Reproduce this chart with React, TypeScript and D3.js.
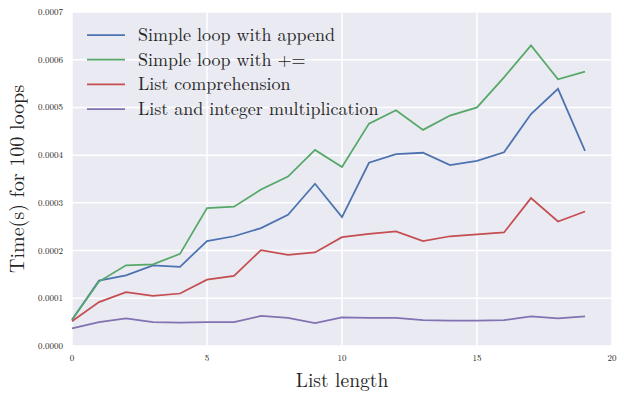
import React from 'react';
import * as d3 from 'd3';

const width = 624;
const height = 398;
const margin = { top: 12, right: 12, bottom: 52, left: 72 };

const xs = d3.range(0, 20);
const seriesNames = [
  'Simple loop with append',
  'Simple loop with +=',
  'List comprehension',
  'List and integer multiplication',
];
const colors = ['#4C72B0', '#55A868', '#C44E52', '#8172B2'];

const appendTimes = [
  0.000055, 0.000137, 0.000148, 0.000169, 0.000166, 0.00022, 0.00023, 0.000247, 0.000275, 0.00034,
  0.00027, 0.000384, 0.000402, 0.000405, 0.000379, 0.000388, 0.000406, 0.000486, 0.000539, 0.000409,
];
const plusEqTimes = [
  0.000055, 0.000135, 0.000169, 0.000171, 0.000193, 0.000289, 0.000292, 0.000328, 0.000355, 0.000411,
  0.000375, 0.000466, 0.000494, 0.000453, 0.000483, 0.0005, 0.000563, 0.00063, 0.000559, 0.000575,
];
const comprehensionTimes = [
  0.000052, 0.000092, 0.000113, 0.000105, 0.00011, 0.000139, 0.000147, 0.000201, 0.000191, 0.000196,
  0.000228, 0.000235, 0.00024, 0.00022, 0.00023, 0.000234, 0.000238, 0.00031, 0.000261, 0.000282,
];
const multiplyTimes = [
  0.000037, 0.00005, 0.000058, 0.00005, 0.000049, 0.00005, 0.00005, 0.000063, 0.000059, 0.000048,
  0.00006, 0.000059, 0.000059, 0.000054, 0.000053, 0.000053, 0.000054, 0.000062, 0.000058, 0.000062,
];
const allSeries = [appendTimes, plusEqTimes, comprehensionTimes, multiplyTimes];

const xTicks = [0, 5, 10, 15, 20];
const yTicks = [0, 0.0001, 0.0002, 0.0003, 0.0004, 0.0005, 0.0006, 0.0007];

const serif = '"Latin Modern Roman", "CMU Serif", "DejaVu Serif", serif';

export default function App() {
  const innerW = width - margin.left - margin.right;
  const innerH = height - margin.top - margin.bottom;

  const x = d3.scaleLinear().domain([0, 20]).range([0, innerW]);
  const y = d3.scaleLinear().domain([0, 0.0007]).range([innerH, 0]);

  const line = d3
    .line<number>()
    .x((_, i) => x(xs[i]))
    .y((d) => y(d));

  return (
    <svg
      width={width}
      height={height}
      style={{ position: 'absolute', left: 0, top: 0, background: '#fff' }}
    >
      <g transform={`translate(${margin.left},${margin.top})`}>
        <rect width={innerW} height={innerH} fill="#EAEAF2" />
        {xTicks.map((t) => (
          <line key={'gx' + t} x1={x(t)} x2={x(t)} y1={0} y2={innerH} stroke="#fff" strokeWidth={1.5} />
        ))}
        {yTicks.map((t) => (
          <line key={'gy' + t} x1={0} x2={innerW} y1={y(t)} y2={y(t)} stroke="#fff" strokeWidth={1.5} />
        ))}

        {allSeries.map((s, i) => (
          <path key={i} d={line(s) || ''} fill="none" stroke={colors[i]} strokeWidth={1.75} />
        ))}

        {xTicks.map((t) => (
          <text
            key={'tx' + t}
            x={x(t)}
            y={innerH + 15}
            textAnchor="middle"
            fontFamily={serif}
            fontSize={9}
            fill="#262626"
          >
            {t}
          </text>
        ))}
        {yTicks.map((t) => (
          <text
            key={'ty' + t}
            x={-9}
            y={y(t) + 3}
            textAnchor="end"
            fontFamily={serif}
            fontSize={9}
            fill="#262626"
          >
            {t.toFixed(4)}
          </text>
        ))}

        {seriesNames.map((name, i) => (
          <g key={name} transform={`translate(15,${23 + i * 24.7})`}>
            <line x1={0} x2={38} y1={0} y2={0} stroke={colors[i]} strokeWidth={1.75} />
            <text x={51} y={6} fontFamily={serif} fontSize={18} fill="#262626">
              {name}
            </text>
          </g>
        ))}
      </g>

      <text
        x={margin.left + innerW / 2}
        y={387}
        textAnchor="middle"
        fontFamily={serif}
        fontSize={19.5}
        fill="#262626"
      >
        List length
      </text>
      <text
        transform={`translate(24,${margin.top + innerH / 2}) rotate(-90)`}
        textAnchor="middle"
        fontFamily={serif}
        fontSize={20}
        fill="#262626"
      >
        Time(s) for 100 loops
      </text>
    </svg>
  );
}
